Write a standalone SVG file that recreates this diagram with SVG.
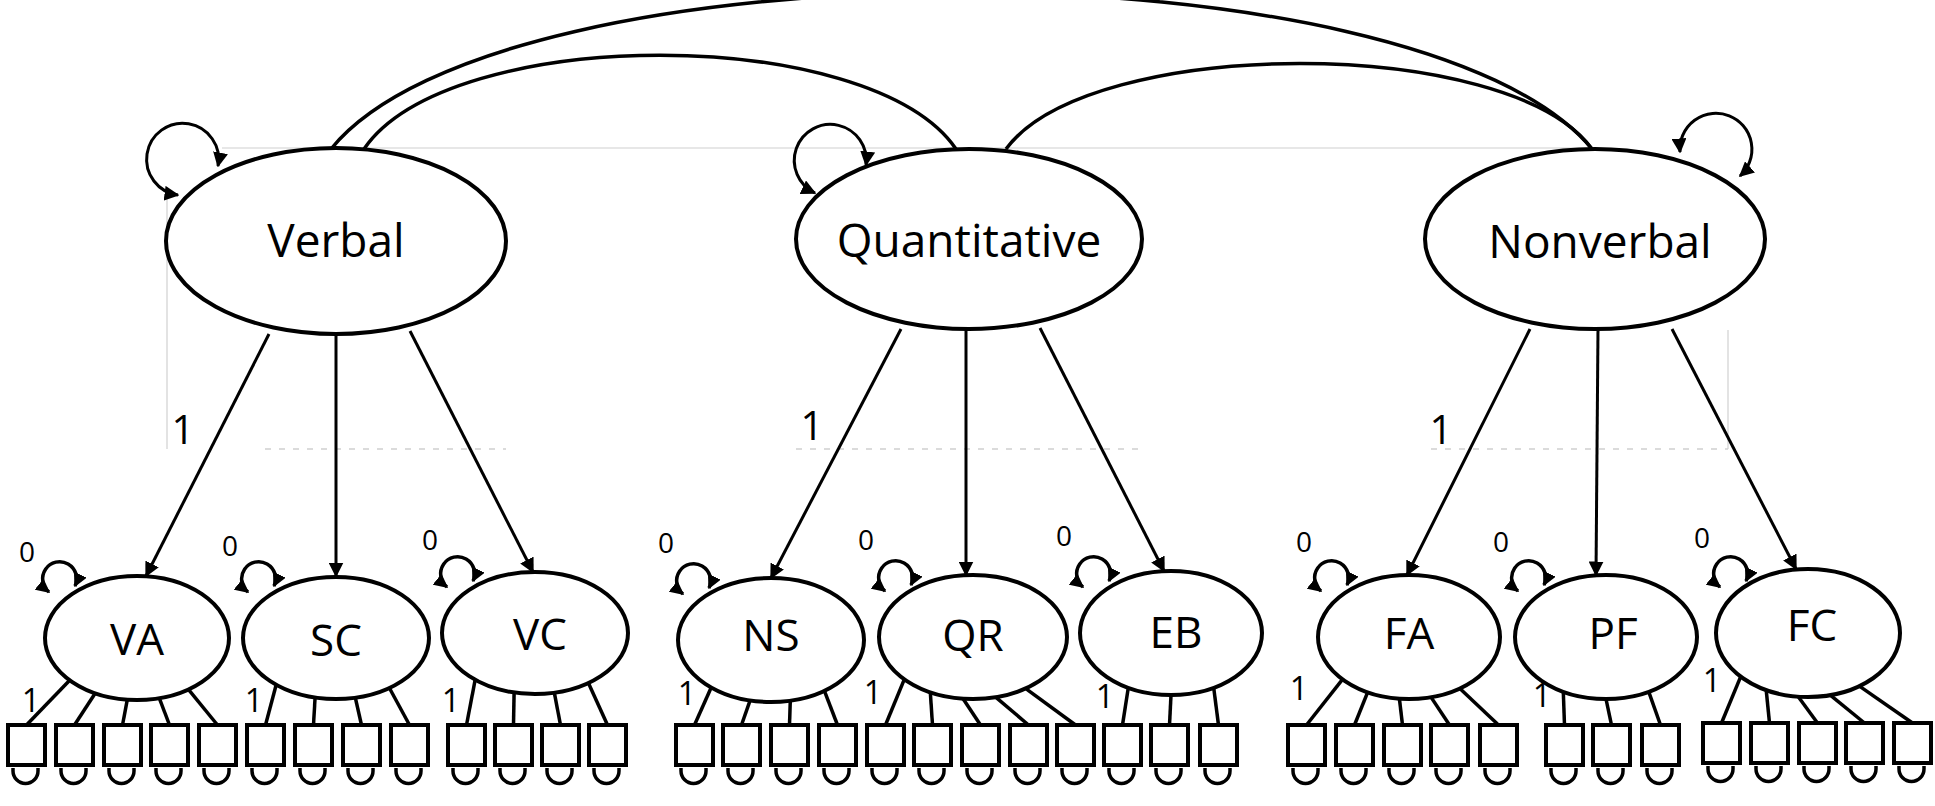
<svg xmlns="http://www.w3.org/2000/svg" width="1935" height="806" viewBox="0 0 1935 806">
<defs>
<marker id="ah" viewBox="0 0 10 10" refX="9" refY="5" markerWidth="5" markerHeight="5" orient="auto-start-reverse" markerUnits="strokeWidth"><path d="M0,0 L10,5 L0,10 z" fill="#000"/></marker>
<marker id="ahs" viewBox="0 0 10 10" refX="9" refY="5" markerWidth="4" markerHeight="4" orient="auto-start-reverse" markerUnits="strokeWidth"><path d="M0,0 L10,5 L0,10 z" fill="#000"/></marker>
</defs>
<style>
.e{fill:#fff;stroke:#000;stroke-width:4}
.b{fill:#fff;stroke:#000;stroke-width:4}
.l{fill:none;stroke:#000;stroke-width:3.5}
.a{fill:none;stroke:#000;stroke-width:3;marker-end:url(#ah)}
.lp{fill:none;stroke:#000;stroke-width:3;marker-start:url(#ah);marker-end:url(#ah)}
.sp{fill:none;stroke:#000;stroke-width:3.5;marker-start:url(#ahs);marker-end:url(#ahs)}
.u{fill:none;stroke:#000;stroke-width:3.5}
.g{stroke:#d0d0d0;stroke-width:1.2;fill:none}
.gd{stroke:#d0d0d0;stroke-width:1.5;stroke-dasharray:6 8;fill:none}
text{font-family:"Open Sans","Liberation Sans",sans-serif;fill:#000;text-anchor:middle}
.big{font-size:46px}
.sm{font-size:44px}
.one{font-size:40px}
.n1{font-size:32px}
.n0{font-size:28px}
</style>
<rect width="1935" height="806" fill="#fff"/>
<g id="guides">
<line class="g" x1="222" y1="148" x2="1592" y2="148"/>
<line class="g" x1="167" y1="198" x2="167" y2="449"/>
<line class="g" x1="1728" y1="330" x2="1728" y2="449"/>
<line class="gd" x1="265" y1="449" x2="506" y2="449"/>
<line class="gd" x1="796" y1="449" x2="1141" y2="449"/>
<line class="gd" x1="1431" y1="449" x2="1728" y2="449"/>
</g>
<g id="connectors">
<path class="l" d="M331,149 C500,-60 1420,-60 1592,149"/>
<path class="l" d="M364,149 C450,24 870,24 956,149"/>
<path class="l" d="M1006,149 C1090,35 1510,35 1592,149"/>
<path class="lp" d="M178,195 A36 36 0 1 1 218,166"/>
<path class="lp" d="M815,193 A36 36 0 1 1 866,165"/>
<path class="lp" d="M1680,152 A36 36 0 1 1 1740,176"/>
<line class="a" x1="269" y1="334" x2="146" y2="576"/>
<line class="a" x1="336" y1="334" x2="336" y2="576"/>
<line class="a" x1="410" y1="331" x2="533" y2="572"/>
<line class="a" x1="901" y1="329" x2="771" y2="578"/>
<line class="a" x1="966" y1="329" x2="966" y2="575"/>
<line class="a" x1="1040" y1="328" x2="1164" y2="571"/>
<line class="a" x1="1530" y1="329" x2="1407" y2="575"/>
<line class="a" x1="1598" y1="329" x2="1596" y2="575"/>
<line class="a" x1="1672" y1="329" x2="1796" y2="569"/>
<path class="sp" d="M49,592 A17 17 0 1 1 75,586"/>
<path class="sp" d="M248,592 A17 17 0 1 1 274,586"/>
<path class="sp" d="M447,587 A17 17 0 1 1 473,581"/>
<path class="sp" d="M683,594 A17 17 0 1 1 709,588"/>
<path class="sp" d="M885,591 A17 17 0 1 1 911,585"/>
<path class="sp" d="M1083,587 A17 17 0 1 1 1109,581"/>
<path class="sp" d="M1321,591 A17 17 0 1 1 1347,585"/>
<path class="sp" d="M1518,591 A17 17 0 1 1 1544,585"/>
<path class="sp" d="M1720,587 A17 17 0 1 1 1746,581"/>
<line class="l" x1="69.7" y1="680.3" x2="26.5" y2="725"/>
<line class="l" x1="95.2" y1="693.2" x2="74.5" y2="725"/>
<line class="l" x1="127.3" y1="699.7" x2="122.5" y2="725"/>
<line class="l" x1="159.3" y1="698.1" x2="169.5" y2="725"/>
<line class="l" x1="188.4" y1="689.4" x2="217.5" y2="725"/>
<line class="l" x1="276.2" y1="684.7" x2="265.5" y2="725"/>
<line class="l" x1="315.1" y1="697.4" x2="313.5" y2="725"/>
<line class="l" x1="355.3" y1="697.7" x2="361.5" y2="725"/>
<line class="l" x1="389.4" y1="688" x2="409.5" y2="725"/>
<line class="l" x1="475.2" y1="679.7" x2="466.5" y2="725"/>
<line class="l" x1="514.1" y1="692.4" x2="513.5" y2="725"/>
<line class="l" x1="554.3" y1="692.7" x2="560.5" y2="725"/>
<line class="l" x1="588.4" y1="683" x2="607.5" y2="725"/>
<line class="l" x1="711.2" y1="687.5" x2="694.5" y2="725"/>
<line class="l" x1="750.1" y1="700.4" x2="741.5" y2="725"/>
<line class="l" x1="790.3" y1="700.6" x2="789.5" y2="725"/>
<line class="l" x1="824.4" y1="690.8" x2="837.5" y2="725"/>
<line class="l" x1="904.3" y1="679.3" x2="885.5" y2="725"/>
<line class="l" x1="930.3" y1="692.2" x2="932.5" y2="725"/>
<line class="l" x1="963.1" y1="698.7" x2="980.5" y2="725"/>
<line class="l" x1="995.7" y1="697.1" x2="1028.5" y2="725"/>
<line class="l" x1="1025.5" y1="688.4" x2="1075.5" y2="725"/>
<line class="l" x1="1128.3" y1="687.7" x2="1122.5" y2="725"/>
<line class="l" x1="1171" y1="695" x2="1169.5" y2="725"/>
<line class="l" x1="1213.7" y1="687.7" x2="1218.5" y2="725"/>
<line class="l" x1="1342.5" y1="679.3" x2="1306.5" y2="725"/>
<line class="l" x1="1367.7" y1="692.2" x2="1354.5" y2="725"/>
<line class="l" x1="1399.4" y1="698.7" x2="1402.5" y2="725"/>
<line class="l" x1="1431" y1="697.1" x2="1449.5" y2="725"/>
<line class="l" x1="1459.9" y1="688.4" x2="1498.5" y2="725"/>
<line class="l" x1="1563.3" y1="691.7" x2="1564.5" y2="725"/>
<line class="l" x1="1606" y1="699" x2="1611.5" y2="725"/>
<line class="l" x1="1648.7" y1="691.7" x2="1660.5" y2="725"/>
<line class="l" x1="1740.7" y1="676.6" x2="1721.5" y2="723"/>
<line class="l" x1="1766.2" y1="690" x2="1769.5" y2="723"/>
<line class="l" x1="1798.3" y1="696.7" x2="1817.5" y2="723"/>
<line class="l" x1="1830.3" y1="695.1" x2="1864.5" y2="723"/>
<line class="l" x1="1859.4" y1="686.1" x2="1912.5" y2="723"/>
<g id="residual-loops">
<path class="u" d="M13,768 v3 a12.5 12.5 0 0 0 25 0 v-3 M61,768 v3 a12.5 12.5 0 0 0 25 0 v-3 M109,768 v3 a12.5 12.5 0 0 0 25 0 v-3 M156,768 v3 a12.5 12.5 0 0 0 25 0 v-3 M204,768 v3 a12.5 12.5 0 0 0 25 0 v-3"/>
<path class="u" d="M252,768 v3 a12.5 12.5 0 0 0 25 0 v-3 M300,768 v3 a12.5 12.5 0 0 0 25 0 v-3 M348,768 v3 a12.5 12.5 0 0 0 25 0 v-3 M396,768 v3 a12.5 12.5 0 0 0 25 0 v-3"/>
<path class="u" d="M453,768 v3 a12.5 12.5 0 0 0 25 0 v-3 M500,768 v3 a12.5 12.5 0 0 0 25 0 v-3 M547,768 v3 a12.5 12.5 0 0 0 25 0 v-3 M594,768 v3 a12.5 12.5 0 0 0 25 0 v-3"/>
<path class="u" d="M681,768 v3 a12.5 12.5 0 0 0 25 0 v-3 M728,768 v3 a12.5 12.5 0 0 0 25 0 v-3 M776,768 v3 a12.5 12.5 0 0 0 25 0 v-3 M824,768 v3 a12.5 12.5 0 0 0 25 0 v-3"/>
<path class="u" d="M872,768 v3 a12.5 12.5 0 0 0 25 0 v-3 M919,768 v3 a12.5 12.5 0 0 0 25 0 v-3 M967,768 v3 a12.5 12.5 0 0 0 25 0 v-3 M1015,768 v3 a12.5 12.5 0 0 0 25 0 v-3 M1062,768 v3 a12.5 12.5 0 0 0 25 0 v-3"/>
<path class="u" d="M1109,768 v3 a12.5 12.5 0 0 0 25 0 v-3 M1156,768 v3 a12.5 12.5 0 0 0 25 0 v-3 M1205,768 v3 a12.5 12.5 0 0 0 25 0 v-3"/>
<path class="u" d="M1293,768 v3 a12.5 12.5 0 0 0 25 0 v-3 M1341,768 v3 a12.5 12.5 0 0 0 25 0 v-3 M1389,768 v3 a12.5 12.5 0 0 0 25 0 v-3 M1436,768 v3 a12.5 12.5 0 0 0 25 0 v-3 M1485,768 v3 a12.5 12.5 0 0 0 25 0 v-3"/>
<path class="u" d="M1551,768 v3 a12.5 12.5 0 0 0 25 0 v-3 M1598,768 v3 a12.5 12.5 0 0 0 25 0 v-3 M1647,768 v3 a12.5 12.5 0 0 0 25 0 v-3"/>
<path class="u" d="M1708,766 v3 a12.5 12.5 0 0 0 25 0 v-3 M1756,766 v3 a12.5 12.5 0 0 0 25 0 v-3 M1804,766 v3 a12.5 12.5 0 0 0 25 0 v-3 M1851,766 v3 a12.5 12.5 0 0 0 25 0 v-3 M1899,766 v3 a12.5 12.5 0 0 0 25 0 v-3"/>
</g>
</g>
<g id="Verbal"><ellipse class="e" cx="336" cy="241" rx="170" ry="93"/><text class="big" x="336" y="257">Verbal</text></g>
<g id="Quantitative"><ellipse class="e" cx="969" cy="239" rx="173" ry="90"/><text class="big" x="969" y="257">Quantitative</text></g>
<g id="Nonverbal"><ellipse class="e" cx="1595" cy="239" rx="170" ry="90"/><text class="big" x="1600" y="258">Nonverbal</text></g>
<g id="load-labels"><text class="one" x="183" y="444">1</text><text class="one" x="812" y="440">1</text><text class="one" x="1441" y="444">1</text></g>
<g id="VA"><ellipse class="e" cx="137" cy="638" rx="92" ry="62"/><text class="sm" x="137" y="655">VA</text><text class="n0" x="27" y="562">0</text><text class="n1" x="31" y="712">1</text></g>
<g id="SC"><ellipse class="e" cx="336" cy="638" rx="93" ry="61"/><text class="sm" x="336" y="656">SC</text><text class="n0" x="230" y="556">0</text><text class="n1" x="254" y="712">1</text></g>
<g id="VC"><ellipse class="e" cx="535" cy="633" rx="93" ry="61"/><text class="sm" x="540" y="650">VC</text><text class="n0" x="430" y="550">0</text><text class="n1" x="451" y="712">1</text></g>
<g id="NS"><ellipse class="e" cx="771" cy="640" rx="93" ry="62"/><text class="sm" x="771" y="651">NS</text><text class="n0" x="666" y="553">0</text><text class="n1" x="687" y="705">1</text></g>
<g id="QR"><ellipse class="e" cx="973" cy="637" rx="94" ry="62"/><text class="sm" x="973" y="651">QR</text><text class="n0" x="866" y="550">0</text><text class="n1" x="873" y="704">1</text></g>
<g id="EB"><ellipse class="e" cx="1171" cy="633" rx="91" ry="62"/><text class="sm" x="1176" y="648">EB</text><text class="n0" x="1064" y="546">0</text><text class="n1" x="1105" y="708">1</text></g>
<g id="FA"><ellipse class="e" cx="1409" cy="637" rx="91" ry="62"/><text class="sm" x="1409" y="649">FA</text><text class="n0" x="1304" y="552">0</text><text class="n1" x="1299" y="700">1</text></g>
<g id="PF"><ellipse class="e" cx="1606" cy="637" rx="91" ry="62"/><text class="sm" x="1613" y="649">PF</text><text class="n0" x="1501" y="552">0</text><text class="n1" x="1542" y="707">1</text></g>
<g id="FC"><ellipse class="e" cx="1808" cy="633" rx="92" ry="64"/><text class="sm" x="1812" y="641">FC</text><text class="n0" x="1702" y="548">0</text><text class="n1" x="1712" y="692">1</text></g>
<g id="indicators">
<rect class="b" x="8" y="725" width="37" height="40"/><rect class="b" x="56" y="725" width="37" height="40"/><rect class="b" x="104" y="725" width="37" height="40"/><rect class="b" x="151" y="725" width="37" height="40"/><rect class="b" x="199" y="725" width="37" height="40"/>
<rect class="b" x="247" y="725" width="37" height="40"/><rect class="b" x="295" y="725" width="37" height="40"/><rect class="b" x="343" y="725" width="37" height="40"/><rect class="b" x="391" y="725" width="37" height="40"/>
<rect class="b" x="448" y="725" width="37" height="40"/><rect class="b" x="495" y="725" width="37" height="40"/><rect class="b" x="542" y="725" width="37" height="40"/><rect class="b" x="589" y="725" width="37" height="40"/>
<rect class="b" x="676" y="725" width="37" height="40"/><rect class="b" x="723" y="725" width="37" height="40"/><rect class="b" x="771" y="725" width="37" height="40"/><rect class="b" x="819" y="725" width="37" height="40"/>
<rect class="b" x="867" y="725" width="37" height="40"/><rect class="b" x="914" y="725" width="37" height="40"/><rect class="b" x="962" y="725" width="37" height="40"/><rect class="b" x="1010" y="725" width="37" height="40"/><rect class="b" x="1057" y="725" width="37" height="40"/>
<rect class="b" x="1104" y="725" width="37" height="40"/><rect class="b" x="1151" y="725" width="37" height="40"/><rect class="b" x="1200" y="725" width="37" height="40"/>
<rect class="b" x="1288" y="725" width="37" height="40"/><rect class="b" x="1336" y="725" width="37" height="40"/><rect class="b" x="1384" y="725" width="37" height="40"/><rect class="b" x="1431" y="725" width="37" height="40"/><rect class="b" x="1480" y="725" width="37" height="40"/>
<rect class="b" x="1546" y="725" width="37" height="40"/><rect class="b" x="1593" y="725" width="37" height="40"/><rect class="b" x="1642" y="725" width="37" height="40"/>
<rect class="b" x="1703" y="723" width="37" height="40"/><rect class="b" x="1751" y="723" width="37" height="40"/><rect class="b" x="1799" y="723" width="37" height="40"/><rect class="b" x="1846" y="723" width="37" height="40"/><rect class="b" x="1894" y="723" width="37" height="40"/>
</g>
</svg>
